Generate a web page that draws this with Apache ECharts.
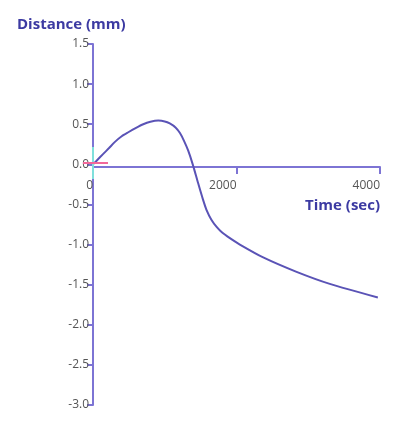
<!DOCTYPE html>
<html><head><meta charset="utf-8">
<script src="https://cdn.jsdelivr.net/npm/echarts@6/dist/echarts.min.js"></script>
<style>html,body{margin:0;padding:0;background:#fff}#c{width:400px;height:426px}</style>
</head><body><div id="c"></div>
<script>
var timeSec = [0,50,143,220,306,400,492,600,700,800,910,1000,1070,1150,1212,1270,1327,1390,1467,1530,1583,1650,1723,1800,1908,2047,2372,2837,3300,3970];
var distanceMm = [0,0.045,0.13,0.20,0.28,0.35,0.40,0.455,0.50,0.53,0.545,0.535,0.51,0.46,0.39,0.29,0.17,0.0,-0.24,-0.43,-0.57,-0.69,-0.78,-0.85,-0.92,-1.00,-1.16,-1.34,-1.49,-1.66];
var xTicks = [0,2000,4000];
var yTicks = [-3.0,-2.5,-2.0,-1.5,-1.0,-0.5,0.0,0.5,1.0,1.5];
var yTitle = 'Distance (mm)';
var xTitle = 'Time (sec)';

var axisColor = '#7d74d4';
var lineColor = '#5a53b6';
var titleColor = '#3c3aa2';
var labelColor = '#555';
var font = '"Open Sans", "Noto Sans", sans-serif';

var chart = echarts.init(document.getElementById('c'), null, {renderer:'canvas'});
var points = timeSec.map(function(t,i){return [t, distanceMm[i]];});
var xAxisOpt = {
  type:'value', position:'bottom', min:xTicks[0], max:xTicks[xTicks.length-1], interval:xTicks[1]-xTicks[0],
  axisLine:{onZero:false, lineStyle:{color:axisColor,width:2}},
  axisTick:{show:true, inside:false, length:7, lineStyle:{color:axisColor,width:2}},
  axisLabel:{color:labelColor, fontSize:12, fontFamily:font, align:'right', margin:13, showMinLabel:true, showMaxLabel:true,
    formatter:function(v){return String(v);}},
  splitLine:{show:false}
};
chart.setOption({
  animation:false,
  grid:{left:93,right:20,top:44,bottom:21},
  xAxis:xAxisOpt,
  yAxis:{
    type:'value', min:yTicks[0], max:yTicks[yTicks.length-1], interval:0.5,
    axisLine:{show:true, lineStyle:{color:axisColor,width:2}},
    axisTick:{show:true, length:6, lineStyle:{color:axisColor,width:2}},
    axisLabel:{color:labelColor, fontSize:12, fontFamily:font, margin:4, formatter:function(v){return v.toFixed(1);}},
    splitLine:{show:false}
  },
  series:[{
    type:'line', data:points, smooth:0.25, showSymbol:false,
    lineStyle:{color:lineColor,width:2}, clip:false, z:3
  }]
});
var o = chart.convertToPixel({xAxisIndex:0,yAxisIndex:0},[0,0]);
var b = chart.convertToPixel({xAxisIndex:0,yAxisIndex:0},[0,yTicks[0]]);
chart.setOption({
  xAxis:{offset:-(b[1]-o[1])},
  graphic:[
  {type:'text', left:17, top:17, style:{text:yTitle, fill:titleColor, font:'bold 15px '+font}},
  {type:'text', right:20, top:198, style:{text:xTitle, fill:titleColor, font:'bold 15px '+font}},
  {type:'line', shape:{x1:o[0],y1:o[1]-16,x2:o[0],y2:o[1]+16}, style:{stroke:'#7fe0dc',lineWidth:2}, z:10},
  {type:'line', shape:{x1:o[0]-10,y1:o[1],x2:o[0]+15,y2:o[1]}, style:{stroke:'#f2689a',lineWidth:2}, z:11}
]});
</script></body></html>
